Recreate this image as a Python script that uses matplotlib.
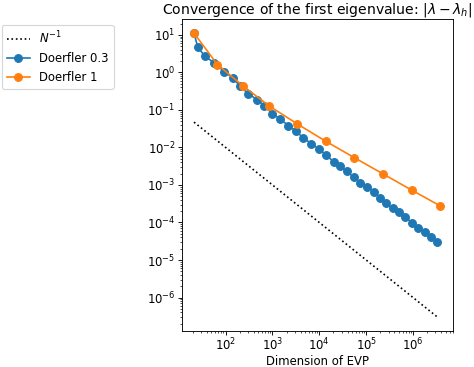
import matplotlib
matplotlib.use("Agg")
import matplotlib.pyplot as plt
import numpy as np

# Doerfler 0.3 (adaptive, theta = 0.3)
dofs_03 = [21.2, 25.5, 36.5, 57.6, 94.2, 147, 204, 307, 464, 675, 1000, 1461,
           2198, 3162, 4596, 6714, 9616, 13840, 20100, 27300, 38900, 53800,
           74800, 104000, 143900, 200000, 264900, 366400, 509300, 684000,
           952000, 1.28e6, 1.77e6, 2.43e6, 3.26e6]
err_03 = [11.07, 4.66, 2.67, 1.78, 1.04, 0.697, 0.421, 0.271, 0.189, 0.126,
          0.080, 0.0569, 0.038, 0.0272, 0.0178, 0.01265, 0.00936, 0.00625,
          0.00420, 0.00311, 0.00231, 0.00161, 0.00114, 8.81e-4, 6.64e-4,
          4.44e-4, 3.23e-4, 2.43e-4, 1.88e-4, 1.39e-4, 9.89e-5, 7.31e-5,
          5.65e-5, 4.18e-5, 3.10e-5]

# Doerfler 1 (uniform refinement)
dofs_1 = [21.2, 66.8, 233, 863, 3420, 13840, 55700, 224000, 952000, 3.83e6]
err_1 = [11.07, 1.62, 0.44, 0.126, 0.042, 0.0145, 0.00535, 0.0020, 7.2e-4, 2.75e-4]

plt.rcParams['font.size'] = 10.5

fig = plt.figure(figsize=(474 / 80, 367 / 80), dpi=80)
ax = fig.add_axes([181.7 / 474, 1 - 331 / 367, 271 / 474, 312 / 367])

n_ref = np.array(dofs_03)
ax.loglog(n_ref, 1.0 / n_ref, ':', color='black', label='$N^{-1}$')
ax.loglog(dofs_03, err_03, 'o-', color='tab:blue', ms=7, label='Doerfler 0.3')
ax.loglog(dofs_1, err_1, 'o-', color='tab:orange', ms=7, label='Doerfler 1')

ax.tick_params(axis='both', which='major', pad=2)
ax.set_xlabel("Dimension of EVP", labelpad=1)
ax.set_title(r"Convergence of the first eigenvalue: $|\lambda - \lambda_h|$",
             pad=5)

fig.legend(loc='upper left', bbox_to_anchor=(2 / 474, 1 - 25 / 367),
           borderaxespad=0)

fig.savefig("out.png", dpi=80)
